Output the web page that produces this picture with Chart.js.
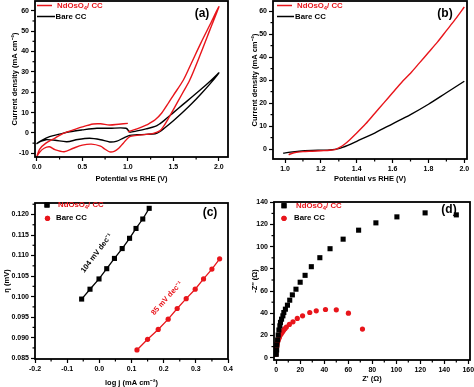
<!DOCTYPE html>
<html>
<head>
<meta charset="utf-8">
<script src="https://cdn.jsdelivr.net/npm/chart.js@4.4.1/dist/chart.umd.min.js"></script>
<style>
  body { margin: 0; background: #fff; }
  #wrap { position: relative; width: 474px; height: 387px; overflow: hidden; }
  canvas { position: absolute; }
</style>
</head>
<body>
<div id="wrap">
  <canvas id="cvA" width="237" height="192" style="left:0;top:0"></canvas>
  <canvas id="cvB" width="237" height="192" style="left:237px;top:0"></canvas>
  <canvas id="cvC" width="237" height="195" style="left:0;top:192px"></canvas>
  <canvas id="cvD" width="237" height="195" style="left:237px;top:192px"></canvas>
</div>
<script>
// series names
const seriesNames = ['NdOsO4/ CC', 'Bare CC'];
const RED = '#e8151b';

// (a) cyclic voltammograms: start at 1.0 V, up to 2.0, back to 0.0, up to 1.0
const cvRedV = [1.0, 1.1, 1.2, 1.24, 1.3, 1.37, 1.45, 1.5, 1.61, 1.7, 1.8, 1.9, 2.0,
  1.9, 1.8, 1.68, 1.6, 1.5, 1.45, 1.39, 1.35, 1.28, 1.2, 1.1, 1.02, 0.95, 0.9, 0.85, 0.8, 0.75, 0.7, 0.6, 0.5, 0.4, 0.3, 0.2, 0.14, 0.08, 0.03, 0.0,
  0.03, 0.1, 0.2, 0.29, 0.4, 0.5, 0.62, 0.7, 0.8, 0.9, 1.0];
const cvRedJ = [0.6, 2, 3.8, 4.8, 6.5, 9.7, 15, 18.5, 26, 34.5, 44, 53, 62,
  50.5, 39, 26, 19.5, 11.5, 7.5, 3.1, 1, -0.2, -0.7, -1.2, -1.8, -5, -7.5, -9, -9.3, -8, -6.5, -5.5, -6, -7.5, -9.2, -8.2, -6.8, -7.5, -9.5, -12,
  -8, -5, -2.5, -0.2, 1.5, 3, 4.4, 4.5, 3.9, 4.3, 4.7];
const cvBlackV = [1.02, 1.1, 1.2, 1.3, 1.35, 1.4, 1.5, 1.6, 1.7, 1.8, 1.9, 2.0,
  1.9, 1.8, 1.7, 1.6, 1.5, 1.4, 1.35, 1.3, 1.2, 1.1, 1.02, 0.95, 0.88, 0.8, 0.7, 0.58, 0.45, 0.33, 0.2, 0.1, 0.05, 0.0,
  0.05, 0.14, 0.25, 0.36, 0.5, 0.66, 0.8, 0.98, 1.02];
const cvBlackJ = [0.3, 1, 2, 3.2, 4.5, 6.2, 10, 13.8, 17.5, 21.3, 25.3, 29.5,
  24, 19, 14.3, 10, 6, 2.3, 0.6, -0.4, -0.7, -0.9, -1.2, -2.5, -4, -4.4, -3.3, -2.6, -3.2, -4.3, -3.6, -3.3, -4, -5.2,
  -3.7, -1.8, -0.6, 0.6, 1.5, 2.3, 2.3, 2.3, 0.3];

// (b) linear sweep voltammograms
const lsvRedV = [1.02, 1.05, 1.1, 1.15, 1.2, 1.25, 1.28, 1.3, 1.33, 1.36, 1.4, 1.45, 1.5, 1.55, 1.6, 1.65, 1.7, 1.75, 1.8, 1.85, 1.9, 1.95, 2.0];
const lsvRedJ = [-2.4, -1.6, -1.1, -0.9, -0.7, -0.5, -0.2, 0.5, 2, 4, 7, 11, 15.5, 20, 24.5, 29, 33, 37.5, 42, 46.5, 51.5, 56.5, 61.8];
const lsvBlackV = [0.99, 1.03, 1.08, 1.15, 1.2, 1.25, 1.3, 1.35, 1.4, 1.5, 1.6, 1.7, 1.8, 1.9, 2.0];
const lsvBlackJ = [-1.8, -1.3, -0.9, -0.6, -0.5, -0.4, 0.2, 1.6, 3.4, 7, 11, 15, 19.5, 24.5, 29.5];

// (c) Tafel plots
const tafelBlackLogJ = [-0.055, -0.029, -0.001, 0.023, 0.047, 0.071, 0.094, 0.114, 0.135, 0.155];
const tafelBlackEta = [0.0994, 0.1018, 0.1043, 0.1068, 0.1093, 0.1117, 0.1142, 0.1166, 0.1189, 0.1215];
const tafelRedLogJ = [0.117, 0.150, 0.183, 0.214, 0.242, 0.270, 0.298, 0.324, 0.350, 0.374];
const tafelRedEta = [0.0870, 0.0896, 0.0920, 0.0945, 0.0971, 0.0995, 0.1018, 0.1043, 0.1067, 0.1092];

// (d) Nyquist plots
const nyqBlackRe = [0, 0.3, 0.5, 1.1, 1.6, 2.2, 3.0, 3.5, 4.4, 5.5, 6.3, 7.6, 9.3, 11.2, 13.4, 16.4, 19.9, 24.0, 29.2, 36.3, 44.8, 55.7, 68.6, 83.0, 100.5, 124.0, 150.0];
const nyqBlackIm = [3.0, 6.9, 11.4, 15.9, 20.4, 24.9, 28.7, 31.8, 34.7, 37.7, 40.7, 43.7, 47.3, 51.8, 56.6, 61.7, 68.0, 74.2, 82.0, 90.1, 98.2, 106.8, 114.9, 121.5, 126.9, 130.5, 128.7];
const nyqRedRe = [-0.3, 0, 0.2, 0.5, 0.8, 1.1, 1.6, 2.2, 2.7, 3.3, 4.1, 4.9, 5.6, 6.3, 7.3, 8.4, 10.9, 13.9, 17.5, 21.9, 27.9, 33.3, 41.0, 50.0, 60.1, 71.8];
const nyqRedIm = [3.0, 6.9, 8.9, 10.8, 12.6, 14.4, 15.9, 17.4, 18.9, 20.4, 21.6, 22.8, 24.0, 25.1, 26.3, 27.6, 30.0, 32.3, 35.4, 37.7, 40.7, 42.2, 43.4, 43.1, 40.1, 25.8];

const zip = (xs, ys) => xs.map((x, i) => ({ x: x, y: ys[i] }));

const FAM = "'Liberation Sans', Arial, sans-serif";
Chart.defaults.font.family = FAM;
Chart.defaults.font.weight = 'bold';
Chart.defaults.font.size = 7;
Chart.defaults.color = '#000';
Chart.defaults.animation = false;

// frame + minor ticks
const framePlugin = {
  id: 'frame',
  afterDraw(chart) {
    const { ctx, chartArea: a, scales } = chart;
    ctx.save();
    ctx.strokeStyle = '#000';
    ctx.lineWidth = 1.2;
    ['x', 'y'].forEach(k => {
      const s = scales[k];
      const vals = s.ticks.map(t => t.value);
      if (vals.length < 2) return;
      const st = vals[1] - vals[0];
      for (let v = vals[0] - st / 2; v <= s.max; v += st) {
        if (v < s.min) continue;
        const p = s.getPixelForValue(v);
        ctx.beginPath();
        if (k === 'x') { ctx.moveTo(p, a.bottom); ctx.lineTo(p, a.bottom + 2.5); }
        else { ctx.moveTo(a.left, p); ctx.lineTo(a.left - 2.5, p); }
        ctx.stroke();
      }
    });
    ctx.lineWidth = 1.8;
    ctx.strokeRect(a.left, a.top, a.right - a.left, a.bottom - a.top);
    ctx.restore();
  }
};

function drawLabel(ctx, text, x, y, color, size) {
  // digits become subscripts
  ctx.fillStyle = color;
  ctx.textBaseline = 'middle';
  ctx.textAlign = 'left';
  const parts = text.split(/(\d)/);
  let cx = x;
  parts.forEach(p => {
    if (!p) return;
    const sub = /^\d$/.test(p);
    ctx.font = 'bold ' + (sub ? size * 0.75 : size) + 'px ' + FAM;
    ctx.fillText(p, cx, sub ? y + size * 0.35 : y);
    cx += ctx.measureText(p).width;
  });
}

const overlayPlugin = {
  id: 'overlay',
  afterDraw(chart, args, o) {
    const ctx = chart.ctx;
    ctx.save();
    if (o.letter) {
      ctx.font = 'bold 12px ' + FAM;
      ctx.fillStyle = '#000';
      ctx.textAlign = 'center';
      ctx.textBaseline = 'middle';
      ctx.fillText(o.letter.text, o.letter.x, o.letter.y);
    }
    (o.legend || []).forEach(it => {
      const ds = chart.data.datasets[it.ds];
      if (it.marker === 'line') {
        ctx.strokeStyle = ds.borderColor;
        ctx.lineWidth = 1.5;
        ctx.beginPath();
        ctx.moveTo(it.x0, it.y);
        ctx.lineTo(it.x1, it.y);
        ctx.stroke();
      } else {
        Chart.helpers.drawPoint(ctx, { pointStyle: ds.pointStyle, radius: ds.pointRadius, borderWidth: 0 }, it.x0, it.y);
        ctx.fillStyle = ds.pointBackgroundColor;
        ctx.fill();
      }
      drawLabel(ctx, ds.label, it.tx, it.y, it.color, 7.8);
    });
    (o.notes || []).forEach(n => {
      const px = chart.scales.x.getPixelForValue(n.x);
      const py = chart.scales.y.getPixelForValue(n.y);
      ctx.save();
      ctx.translate(px, py);
      ctx.rotate(n.angle * Math.PI / 180);
      ctx.font = 'bold 7.5px ' + FAM;
      ctx.fillStyle = n.color;
      ctx.textAlign = 'center';
      ctx.textBaseline = 'middle';
      ctx.fillText(n.text, 0, 0);
      ctx.restore();
    });
    ctx.restore();
  }
};

function axis(o, horizontal) {
  return {
    type: 'linear',
    min: o.min,
    max: o.max,
    border: { display: false },
    grid: { drawOnChartArea: false, drawTicks: true, tickLength: 4, tickWidth: 1.2, tickColor: '#000' },
    ticks: {
      stepSize: o.step, includeBounds: false, autoSkip: false, maxRotation: 0,
      padding: horizontal ? 2 : 2, color: '#000', font: { size: 7, weight: 'bold' },
      callback: v => o.fmt(v)
    },
    title: {
      display: true, text: o.title, color: '#000',
      padding: { top: o.tpad, bottom: o.tpad },
      font: { size: 7.5, weight: 'bold' }
    },
    afterFit: s => {
      if (horizontal) { s.height = o.size; s.paddingLeft = 0; s.paddingRight = 0; }
      else { s.width = o.size; s.paddingTop = 0; s.paddingBottom = 0; }
    }
  };
}

function panel(id, datasets, xo, yo, pad, overlay) {
  return new Chart(document.getElementById(id), {
    type: 'scatter',
    data: { datasets: datasets },
    options: {
      responsive: false,
      layout: { padding: pad },
      plugins: { legend: { display: false }, tooltip: { enabled: false }, overlay: overlay },
      scales: { x: axis(xo, true), y: axis(yo, false) }
    },
    plugins: [framePlugin, overlayPlugin]
  });
}

const lineDs = (label, pts, color) => ({
  label: label, data: pts, showLine: true, borderColor: color, borderWidth: 1.4,
  pointRadius: 0, tension: 0.3, fill: false
});
const markDs = (label, pts, color, style, r, line) => ({
  label: label, data: pts, showLine: line, borderColor: color, borderWidth: 1.3,
  pointStyle: style, pointRadius: r, pointBackgroundColor: color, pointBorderColor: color,
  pointBorderWidth: 0, tension: 0, fill: false
});

const f1 = v => v.toFixed(1);
const f0 = v => String(Math.round(v));
const jTitle = 'Current density (mA cm\u207B\u00B2)';

// (a)
panel('cvA',
  [lineDs(seriesNames[0], zip(cvRedV, cvRedJ), RED), lineDs(seriesNames[1], zip(cvBlackV, cvBlackJ), '#000')],
  { min: -0.02, max: 2.1, step: 0.5, fmt: f1, title: 'Potential vs RHE (V)', tpad: 9, size: 35 },
  { min: -11.8, max: 64.8, step: 10, fmt: f0, title: jTitle, tpad: 10, size: 35 },
  { top: 1, right: 9, bottom: 0, left: 0 },
  { letter: { text: '(a)', x: 202, y: 14 },
    legend: [
      { ds: 0, marker: 'line', x0: 37, x1: 52, y: 5.5, tx: 57, color: RED },
      { ds: 1, marker: 'line', x0: 37, x1: 55, y: 16.5, tx: 55.5, color: '#000' }
    ] });

// (b)
panel('cvB',
  [lineDs(seriesNames[0], zip(lsvRedV, lsvRedJ), RED), lineDs(seriesNames[1], zip(lsvBlackV, lsvBlackJ), '#000')],
  { min: 0.933, max: 2.015, step: 0.2, fmt: f1, title: 'Potential vs RHE (V)', tpad: 9, size: 33 },
  { min: -4.3, max: 64.4, step: 10, fmt: f0, title: jTitle, tpad: 13, size: 36 },
  { top: 1, right: 7, bottom: 0, left: 0 },
  { letter: { text: '(b)', x: 208, y: 14 },
    legend: [
      { ds: 0, marker: 'line', x0: 40, x1: 55, y: 5.5, tx: 60, color: RED },
      { ds: 1, marker: 'line', x0: 40, x1: 57, y: 16.5, tx: 58, color: '#000' }
    ] });

// (c)
panel('cvC',
  [markDs(seriesNames[0], zip(tafelBlackLogJ, tafelBlackEta), '#000', 'rect', 3.6, true),
   markDs(seriesNames[1], zip(tafelRedLogJ, tafelRedEta), RED, 'circle', 2.6, true)],
  { min: -0.2, max: 0.4, step: 0.1, fmt: f1, title: 'log j (mA cm\u207B\u00B2)', tpad: 0, size: 28 },
  { min: 0.0848, max: 0.1228, step: 0.005, fmt: v => v.toFixed(3), title: '\u03B7 (mV)', tpad: 2, size: 35 },
  { top: 11, right: 9, bottom: 0, left: 0 },
  { letter: { text: '(c)', x: 210, y: 21 },
    legend: [
      { ds: 0, marker: 'pt', x0: 47, y: 13, tx: 58, color: RED },
      { ds: 1, marker: 'pt', x0: 47.5, y: 26.3, tx: 56, color: '#000' }
    ],
    notes: [
      { text: '104 mV dec\u207B\u00B9', x: -0.008, y: 0.1106, angle: -53, color: '#000' },
      { text: '85 mV dec\u207B\u00B9', x: 0.21, y: 0.0996, angle: -48, color: RED }
    ] });

// (d)
panel('cvD',
  [markDs(seriesNames[0], zip(nyqBlackRe, nyqBlackIm), '#000', 'rect', 3.6, false),
   markDs(seriesNames[1], zip(nyqRedRe, nyqRedIm), RED, 'circle', 2.6, false)],
  { min: -1.9, max: 161.4, step: 20, fmt: f0, title: "Z' (\u03A9)", tpad: 4, size: 27 },
  { min: -2.1, max: 140.3, step: 20, fmt: f0, title: "-Z'' (\u03A9)", tpad: 13, size: 37 },
  { top: 10, right: 1, bottom: 0, left: 0 },
  { letter: { text: '(d)', x: 212, y: 18 },
    legend: [
      { ds: 0, marker: 'pt', x0: 47, y: 13.7, tx: 59, color: RED },
      { ds: 1, marker: 'pt', x0: 47, y: 26.3, tx: 57, color: '#000' }
    ] });
</script>
</body>
</html>
